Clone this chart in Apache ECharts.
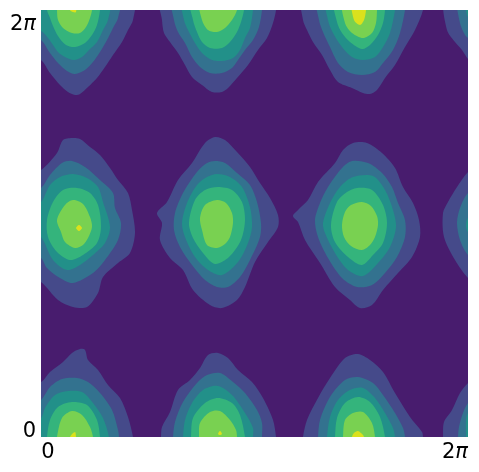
<!DOCTYPE html>
<html>
<head>
<meta charset="utf-8">
<style>html,body{margin:0;padding:0;background:#fff}#chart{width:479px;height:472px}</style>
<script src="https://cdn.jsdelivr.net/npm/echarts@6/dist/echarts.min.js"></script>
</head>
<body>
<div id="chart"></div>
<script>
// contour outlines, in mesh steps (407 steps = 2 pi)
const period = 407
const tickValues = [0, period]
const levelColors = ['#454a8a', '#33728f', '#229089', '#34b47c', '#79d151', '#dbe11c']

const level1 = [
  [[85,430],[85,410],[80,400],[74,388],[65,375],[57,363],[49,352],[40,343],[32,336],[27,335],[20,338],[12,345],[2,357],[-7,370],[-15,370],[-15,430]],
  [[113,430],[114,410],[116,397],[122,388],[130,377],[137,365],[144,353],[154,345],[164,338],[174,338],[180,342],[189,352],[200,365],[210,380],[219,392],[225,407],[228,420],[228,430]],
  [[255,430],[255,410],[259,400],[265,388],[274,375],[282,360],[290,348],[304,342],[315,337],[322,336],[329,340],[337,352],[347,365],[357,383],[367,400],[375,420],[375,430]],
  [[397,430],[399,400],[407,388],[414,380],[420,371],[430,360],[430,430]],
  [[-7,260],[9,277],[15,290],[24,292],[32,291],[42,283],[52,275],[62,262],[70,250],[80,237],[84,220],[87,197],[82,177],[70,167],[55,153],[50,137],[39,123],[25,123],[10,130],[-7,148],[-15,148],[-15,260]],
  [[167,293],[177,290],[189,278],[202,263],[212,247],[222,232],[230,215],[230,203],[220,188],[207,168],[197,143],[189,130],[174,122],[162,125],[145,140],[135,160],[122,172],[112,190],[114,207],[109,217],[119,228],[130,250],[144,267],[157,287]],
  [[305,287],[319,287],[334,277],[347,262],[355,243],[365,227],[371,210],[372,193],[364,173],[350,157],[335,140],[324,125],[312,122],[302,130],[287,143],[272,167],[257,190],[250,208],[245,214],[250,220],[260,230],[270,248],[287,267],[295,280]],
  [[420,258],[409,243],[400,228],[395,217],[396,193],[407,170],[420,152],[430,145],[430,265]],
  [[-15,50],[-7,48],[2,58],[15,68],[24,77],[32,81],[37,80],[40,70],[50,60],[60,45],[72,32],[80,13],[85,-7],[85,-15],[-15,-15]],
  [[113,-15],[113,-7],[114,3],[122,18],[130,40],[142,50],[152,62],[160,75],[170,77],[180,72],[190,60],[204,48],[215,32],[225,10],[228,-7],[228,-15]],
  [[255,-15],[255,-7],[259,10],[270,32],[282,52],[297,72],[310,76],[322,70],[335,58],[347,37],[362,13],[374,-2],[375,-7],[375,-15]],
  [[395,-15],[395,-7],[396,8],[404,20],[412,37],[420,47],[430,55],[430,-15]]
]
const level2 = [
  [[71,430],[70,412],[65,402],[59,390],[52,378],[45,368],[37,360],[27,356],[19,359],[10,367],[2,377],[-7,390],[-15,390],[-15,430]],
  [[125,430],[126,410],[130,398],[137,387],[144,373],[152,363],[162,357],[174,357],[184,362],[190,370],[197,380],[205,390],[211,403],[214,420],[214,430]],
  [[270,430],[271,410],[275,398],[282,383],[290,367],[300,358],[314,355],[327,358],[335,367],[345,380],[352,397],[357,420],[357,430]],
  [[410,430],[412,407],[417,395],[420,392],[430,385],[430,430]],
  [[-7,242],[2,255],[14,267],[24,269],[37,263],[52,250],[65,237],[67,222],[73,207],[70,190],[57,170],[45,157],[25,147],[12,152],[-1,162],[-7,172],[-15,172],[-15,242]],
  [[167,269],[177,267],[189,257],[202,245],[209,228],[213,207],[212,193],[202,170],[192,153],[180,143],[169,143],[157,150],[144,165],[132,183],[126,200],[127,217],[135,237],[149,258],[159,267]],
  [[304,269],[320,267],[334,257],[344,243],[350,227],[357,210],[357,193],[349,173],[337,157],[324,145],[309,143],[294,152],[280,172],[270,193],[267,210],[272,227],[280,243],[294,262]],
  [[420,237],[412,222],[409,207],[412,190],[420,175],[430,170],[430,240]],
  [[-7,30],[2,43],[14,51],[29,52],[40,48],[52,37],[64,20],[70,0],[71,-7],[71,-15],[-15,-15],[-15,30]],
  [[125,-15],[125,-7],[127,8],[135,28],[149,47],[159,55],[172,57],[185,48],[197,37],[209,20],[214,7],[214,-7],[214,-15]],
  [[270,-15],[270,-7],[272,10],[282,33],[297,50],[310,53],[325,47],[335,35],[347,17],[355,2],[357,-7],[357,-15]],
  [[410,-15],[410,-7],[411,3],[415,17],[420,27],[430,35],[430,-15]]
]
const level3 = [
  [[61,430],[60,410],[55,400],[49,388],[41,380],[34,373],[26,370],[17,373],[10,378],[5,385],[0,392],[-7,399],[-15,399],[-15,430]],
  [[135,430],[136,410],[140,400],[147,387],[154,377],[164,370],[174,369],[185,372],[192,380],[197,392],[202,402],[205,420],[205,430]],
  [[279,430],[280,410],[285,397],[294,383],[304,373],[315,370],[327,373],[335,383],[342,397],[347,420],[347,430]],
  [[418,430],[418,420],[420,413],[430,405],[430,430]],
  [[-7,228],[2,245],[12,253],[25,256],[39,252],[50,243],[55,228],[62,203],[57,187],[45,175],[32,165],[19,160],[5,170],[-7,193],[-15,193],[-15,228]],
  [[169,256],[182,253],[194,243],[202,223],[204,203],[200,187],[190,168],[174,155],[160,160],[147,173],[137,193],[134,207],[139,227],[149,245],[159,253]],
  [[305,253],[325,254],[337,240],[345,220],[348,203],[342,183],[330,167],[315,154],[300,160],[287,177],[277,197],[275,207],[282,227],[292,243]],
  [[420,212],[418,205],[420,198],[430,195],[430,215]],
  [[-7,12],[-3,22],[7,35],[20,39],[34,38],[45,27],[55,12],[61,-7],[61,-15],[-15,-15],[-15,12]],
  [[135,-15],[135,-7],[137,10],[144,27],[155,40],[170,44],[184,35],[197,17],[205,2],[205,-7],[205,-15]],
  [[279,-15],[279,-7],[282,13],[290,30],[302,40],[315,42],[327,32],[337,17],[345,2],[347,-7],[347,-15]],
  [[418,-15],[418,-7],[418,10],[420,17],[430,25],[430,-15]]
]
const level4 = [
  [[52,430],[52,420],[49,405],[44,395],[37,387],[27,383],[18,385],[10,394],[5,404],[2,412],[-1,420],[-1,430]],
  [[143,430],[145,410],[149,398],[154,388],[162,382],[174,382],[182,388],[189,398],[193,408],[196,420],[196,430]],
  [[287,430],[289,408],[294,397],[302,388],[314,381],[322,385],[330,395],[335,407],[337,420],[337,430]],
  [[15,240],[29,242],[42,237],[50,225],[53,203],[49,187],[35,175],[22,170],[9,178],[0,193],[-1,210],[5,228]],
  [[170,243],[184,240],[194,228],[197,210],[193,190],[181,173],[167,166],[155,177],[145,192],[141,207],[147,230],[157,240]],
  [[309,242],[324,240],[335,225],[339,207],[335,187],[325,175],[314,165],[300,173],[287,188],[283,205],[289,228],[299,238]],
  [[-1,-7],[2,10],[10,23],[24,28],[39,25],[49,10],[52,-7],[52,-15],[-1,-15]],
  [[143,-15],[143,-7],[145,12],[157,27],[170,32],[184,27],[192,15],[197,-7],[197,-15]],
  [[287,-15],[287,-7],[289,12],[297,27],[310,33],[322,28],[332,13],[337,-7],[337,-15]]
]
const level5 = [
  [[9,430],[9,420],[10,410],[15,402],[24,397],[32,397],[38,403],[42,412],[44,420],[44,430]],
  [[152,430],[154,410],[160,400],[169,398],[177,402],[184,410],[189,420],[189,430]],
  [[295,430],[297,407],[304,397],[315,392],[324,397],[328,407],[329,420],[329,430]],
  [[25,230],[35,226],[42,213],[44,203],[40,192],[35,185],[27,182],[17,188],[13,198],[9,210],[17,225]],
  [[169,230],[178,227],[184,217],[185,207],[182,193],[177,186],[169,182],[159,185],[154,200],[152,212],[157,225]],
  [[314,228],[323,224],[329,214],[330,205],[327,193],[322,185],[314,180],[303,184],[296,193],[294,205],[297,218],[303,225]],
  [[9,-7],[14,12],[24,19],[34,15],[42,3],[45,-7],[45,-15],[9,-15]],
  [[151,-15],[151,-7],[152,7],[162,18],[172,19],[182,10],[188,0],[189,-7],[189,-15]],
  [[295,-15],[295,-7],[297,10],[305,17],[315,18],[324,7],[327,-7],[327,-15]]
]
const level6 = [
  [[22,430],[22,420],[25,418],[28,418],[28,430]],
  [[304,430],[306,410],[312,405],[316,410],[318,420],[318,430]],
  [[31,205],[34,202],[31,199],[28,202]],
  [[22,-7],[27,-2],[28,-7],[28,-15],[22,-15]],
  [[170,-4],[172,-1],[174,-4],[172,-5]],
  [[304,-15],[304,-7],[306,-3],[310,-1],[315,-5],[316,-7],[316,-15]]
]

const levels = [level1, level2, level3, level4, level5, level6]
const contours = []
levels.forEach((polys, level) => {
  polys.forEach(points => contours.push({ level, points }))
})

function renderContour (params, api) {
  const contour = contours[params.dataIndex]
  return {
    type: 'polygon',
    shape: {
      points: contour.points.map(p => api.coord(p)),
      smooth: 0.3
    },
    style: { fill: levelColors[contour.level] }
  }
}

function tickLabel (value) {
  return value === 0 ? '0' : '2{pi|π}'
}

const labelStyle = {
  show: true,
  customValues: tickValues,
  formatter: tickLabel,
  color: '#000',
  fontFamily: 'DejaVu Sans',
  fontSize: 21,
  rich: { pi: { fontFamily: 'DejaVu Sans', fontStyle: 'italic', fontSize: 21, color: '#000' } }
}

const myChart = echarts.init(document.getElementById('chart'))
myChart.setOption({
  animation: false,
  grid: { left: 41, top: 10, width: 427, height: 427, show: true, backgroundColor: '#481c6e', borderWidth: 0 },
  xAxis: {
    type: 'value', min: -7, max: 420,
    axisLine: { show: false }, axisTick: { show: false }, splitLine: { show: false },
    axisLabel: { ...labelStyle, margin: 5, hideOverlap: false }
  },
  yAxis: {
    type: 'value', min: -7, max: 420,
    axisLine: { show: false }, axisTick: { show: false }, splitLine: { show: false },
    axisLabel: { ...labelStyle, margin: 5, padding: [4, 0, 0, 0], hideOverlap: false }
  },
  series: [{
    type: 'custom',
    clip: true,
    renderItem: renderContour,
    data: contours.map((c, i) => [c.points[0][0], c.points[0][1], c.level, i])
  }]
})
</script>
</body>
</html>
